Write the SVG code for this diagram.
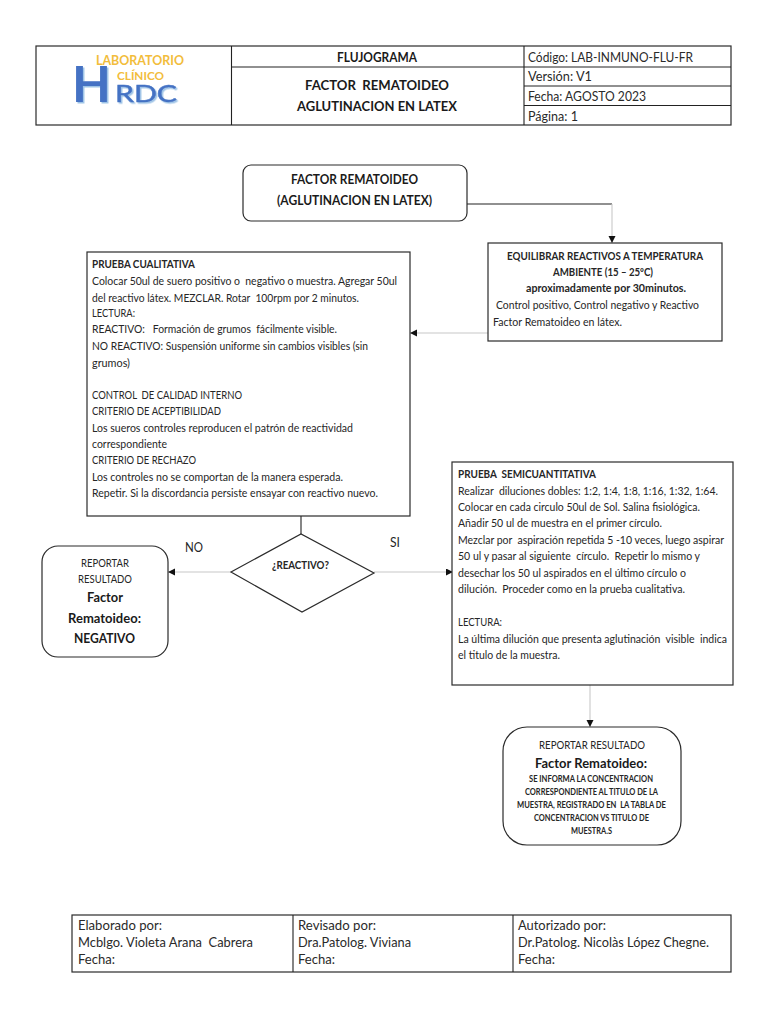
<svg xmlns="http://www.w3.org/2000/svg" width="768" height="1024" viewBox="0 0 768 1024">
<style>
text{font-family:Lato,"Liberation Sans",sans-serif;fill:#262626;white-space:pre;font-size:10.8px}
.b{font-weight:700}
.h{font-size:13px;font-weight:700;fill:#1a1a1a}
.c{font-size:14px;fill:#2a2a2a}
.f{font-size:14px;fill:#2a2a2a}
.s{font-weight:700;font-size:8.8px}
.m{font-weight:700;font-size:14px;fill:#1a1a1a}
.t{font-size:13px}
.box{fill:#fff;stroke:#2b2b2b;stroke-width:1.2}
.k{stroke:#222;stroke-width:1.1;fill:none}
.g{stroke:#c8c8c8;stroke-width:1.1;fill:none}
.y{fill:#f2bd3c;font-weight:700}
.bl{fill:#4472c4;font-weight:700;filter:url(#sh)}
</style>
<defs>
<marker id="a" markerUnits="userSpaceOnUse" markerWidth="8" markerHeight="8" refX="7" refY="3.500" orient="auto"><path d="M0 0L7 3.500L0 7Z" fill="#111"/></marker>
<filter id="sh" x="-10%" y="-10%" width="130%" height="130%"><feDropShadow dx="1.5" dy="1.5" stdDeviation="0.6" flood-color="#9dc3e6"/></filter>
</defs>
<rect width="768" height="1024" fill="#fff"/>
<g id="header">
<rect class="box" x="36" y="46" width="695" height="79"/>
<path class="k" d="M231.500 46V125M524 46V125M231.500 67H731M524 86H731M524 105.500H731"/>
<text class="bl" x="72" y="102" style="font-size:50px" textLength="39" lengthAdjust="spacingAndGlyphs">H</text>
<text class="bl" x="115" y="102" style="font-size:24px;font-weight:400;stroke:#4472c4;stroke-width:.5" textLength="62" lengthAdjust="spacingAndGlyphs">RDC</text>
<text class="y" x="96" y="65" style="font-size:12.500px" textLength="88" lengthAdjust="spacingAndGlyphs">LABORATORIO</text>
<text class="y" x="117" y="80" style="font-size:11.500px" textLength="47" lengthAdjust="spacingAndGlyphs">CLÍNICO</text>
<text class="h" x="337" y="62" textLength="80" lengthAdjust="spacingAndGlyphs">FLUJOGRAMA</text>
<text class="h" x="305" y="90" textLength="144" lengthAdjust="spacingAndGlyphs">FACTOR  REMATOIDEO</text>
<text class="h" x="297" y="111" textLength="160" lengthAdjust="spacingAndGlyphs">AGLUTINACION EN LATEX</text>
<text class="c" x="528" y="62" textLength="165" lengthAdjust="spacingAndGlyphs">Código: LAB-INMUNO-FLU-FR</text>
<text class="c" x="528" y="81" textLength="64" lengthAdjust="spacingAndGlyphs">Versión: V1</text>
<text class="c" x="528" y="101" textLength="118" lengthAdjust="spacingAndGlyphs">Fecha: AGOSTO 2023</text>
<text class="c" x="528" y="121" textLength="50" lengthAdjust="spacingAndGlyphs">Página: 1</text>
</g>
<g id="connectors">
<path class="k" d="M467 204H612"/>
<path class="g" d="M612 204V243" marker-end="url(#a)"/>
<path class="g" d="M488 333H410" marker-end="url(#a)"/>
<path class="k" d="M301 516V534"/>
<path class="g" d="M231 572H168" marker-end="url(#a)"/>
<path class="g" d="M374 572H453" marker-end="url(#a)"/>
<path class="g" d="M590 685V727" marker-end="url(#a)"/>
</g>
<g id="inicio">
<rect class="box" x="243" y="165" width="224" height="56" rx="8"/>
<text class="h" x="291" y="184" textLength="127" lengthAdjust="spacingAndGlyphs">FACTOR REMATOIDEO</text>
<text class="h" x="277" y="205" textLength="155" lengthAdjust="spacingAndGlyphs">(AGLUTINACION EN LATEX)</text>
</g>
<g id="equilibrar">
<rect class="box" x="488" y="243" width="234" height="98"/>
<text class="b" x="507" y="260" textLength="196" lengthAdjust="spacingAndGlyphs">EQUILIBRAR REACTIVOS A TEMPERATURA</text>
<text class="b" x="553" y="276" textLength="100" lengthAdjust="spacingAndGlyphs">AMBIENTE (15 – 25ºC)</text>
<text class="b" x="526" y="292" textLength="160" lengthAdjust="spacingAndGlyphs">aproximadamente por 30minutos.</text>
<text x="496" y="309" textLength="203" lengthAdjust="spacingAndGlyphs">Control positivo, Control negativo y Reactivo</text>
<text x="493" y="326" textLength="129" lengthAdjust="spacingAndGlyphs">Factor Rematoideo en látex.</text>
</g>
<g id="cualitativa">
<rect class="box" x="87" y="252" width="323" height="264"/>
<text class="b" x="92" y="268" textLength="103" lengthAdjust="spacingAndGlyphs">PRUEBA CUALITATIVA</text>
<text x="92" y="285" textLength="305" lengthAdjust="spacingAndGlyphs">Colocar 50ul de suero positivo o  negativo o muestra. Agregar 50ul</text>
<text x="92" y="302" textLength="267" lengthAdjust="spacingAndGlyphs">del reactivo látex. MEZCLAR. Rotar  100rpm por 2 minutos.</text>
<text x="92" y="317" textLength="43" lengthAdjust="spacingAndGlyphs">LECTURA:</text>
<text x="92" y="333" textLength="245" lengthAdjust="spacingAndGlyphs">REACTIVO:   Formación de grumos  fácilmente visible.</text>
<text x="92" y="350" textLength="276" lengthAdjust="spacingAndGlyphs">NO REACTIVO: Suspensión uniforme sin cambios visibles (sin</text>
<text x="92" y="367" textLength="38" lengthAdjust="spacingAndGlyphs">grumos)</text>
<text x="92" y="399" textLength="150" lengthAdjust="spacingAndGlyphs">CONTROL  DE CALIDAD INTERNO</text>
<text x="92" y="415" textLength="129" lengthAdjust="spacingAndGlyphs">CRITERIO DE ACEPTIBILIDAD</text>
<text x="92" y="432" textLength="261" lengthAdjust="spacingAndGlyphs">Los sueros controles reproducen el patrón de reactividad</text>
<text x="92" y="448" textLength="75" lengthAdjust="spacingAndGlyphs">correspondiente</text>
<text x="92" y="464" textLength="104" lengthAdjust="spacingAndGlyphs">CRITERIO DE RECHAZO</text>
<text x="92" y="481" textLength="251" lengthAdjust="spacingAndGlyphs">Los controles no se comportan de la manera esperada.</text>
<text x="92" y="497" textLength="286" lengthAdjust="spacingAndGlyphs">Repetir. Si la discordancia persiste ensayar con reactivo nuevo.</text>
</g>
<g id="decision">
<path class="box" d="M231 572L301 534L374 573L302 612Z"/>
<text class="b" x="272" y="569" textLength="57" lengthAdjust="spacingAndGlyphs">¿REACTIVO?</text>
</g>
<g id="etiquetas">
<text class="t" x="185" y="552" textLength="18" lengthAdjust="spacingAndGlyphs">NO</text>
<text class="t" x="390" y="547" textLength="10" lengthAdjust="spacingAndGlyphs">SI</text>
</g>
<g id="negativo">
<rect class="box" x="42" y="546" width="126" height="111" rx="16"/>
<text x="81" y="567" textLength="48" lengthAdjust="spacingAndGlyphs">REPORTAR</text>
<text x="78" y="583" textLength="54" lengthAdjust="spacingAndGlyphs">RESULTADO</text>
<text class="m" x="87" y="602" textLength="36" lengthAdjust="spacingAndGlyphs">Factor</text>
<text class="m" x="68" y="623" textLength="73" lengthAdjust="spacingAndGlyphs">Rematoideo:</text>
<text class="m" x="74" y="643" textLength="61" lengthAdjust="spacingAndGlyphs">NEGATIVO</text>
</g>
<g id="semicuantitativa">
<rect class="box" x="452" y="462" width="281" height="223"/>
<text class="b" x="458" y="478" textLength="138" lengthAdjust="spacingAndGlyphs">PRUEBA  SEMICUANTITATIVA</text>
<text x="458" y="495" textLength="260" lengthAdjust="spacingAndGlyphs">Realizar  diluciones dobles: 1:2, 1:4, 1:8, 1:16, 1:32, 1:64.</text>
<text x="458" y="511" textLength="242" lengthAdjust="spacingAndGlyphs">Colocar en cada circulo 50ul de Sol. Salina fisiológica.</text>
<text x="458" y="527" textLength="204" lengthAdjust="spacingAndGlyphs">Añadir 50 ul de muestra en el primer círculo.</text>
<text x="458" y="544" textLength="266" lengthAdjust="spacingAndGlyphs">Mezclar por  aspiración repetida 5 -10 veces, luego aspirar</text>
<text x="458" y="560" textLength="242" lengthAdjust="spacingAndGlyphs">50 ul y pasar al siguiente  círculo.  Repetir lo mismo y</text>
<text x="458" y="577" textLength="228" lengthAdjust="spacingAndGlyphs">desechar los 50 ul aspirados en el último círculo o</text>
<text x="458" y="593" textLength="227" lengthAdjust="spacingAndGlyphs">dilución.  Proceder como en la prueba cualitativa.</text>
<text x="458" y="626" textLength="44" lengthAdjust="spacingAndGlyphs">LECTURA:</text>
<text x="458" y="643" textLength="269" lengthAdjust="spacingAndGlyphs">La última dilución que presenta aglutinación  visible  indica</text>
<text x="458" y="659" textLength="102" lengthAdjust="spacingAndGlyphs">el titulo de la muestra.</text>
</g>
<g id="concentracion">
<rect class="box" x="503" y="727" width="178" height="118" rx="24"/>
<text x="539" y="749" textLength="106" lengthAdjust="spacingAndGlyphs">REPORTAR RESULTADO</text>
<text class="m" x="535" y="768" textLength="112" lengthAdjust="spacingAndGlyphs">Factor Rematoideo:</text>
<text class="s" x="529" y="782" textLength="124" lengthAdjust="spacingAndGlyphs">SE INFORMA LA CONCENTRACION</text>
<text class="s" x="525" y="795" textLength="133" lengthAdjust="spacingAndGlyphs">CORRESPONDIENTE AL TITULO DE LA</text>
<text class="s" x="517" y="808" textLength="149" lengthAdjust="spacingAndGlyphs">MUESTRA, REGISTRADO EN  LA TABLA DE</text>
<text class="s" x="534" y="821" textLength="115" lengthAdjust="spacingAndGlyphs">CONCENTRACION VS TITULO DE</text>
<text class="s" x="571" y="834" textLength="41" lengthAdjust="spacingAndGlyphs">MUESTRA.S</text>
</g>
<g id="firmas">
<rect class="box" x="72" y="915" width="659" height="57"/>
<path class="k" d="M293 915V972M513 915V972"/>
<text class="f" x="78" y="930" textLength="84" lengthAdjust="spacingAndGlyphs">Elaborado por:</text>
<text class="f" x="78" y="947" textLength="175" lengthAdjust="spacingAndGlyphs">Mcblgo. Violeta Arana  Cabrera</text>
<text class="f" x="78" y="964" textLength="37" lengthAdjust="spacingAndGlyphs">Fecha:</text>
<text class="f" x="298" y="930" textLength="78" lengthAdjust="spacingAndGlyphs">Revisado por:</text>
<text class="f" x="298" y="947" textLength="113" lengthAdjust="spacingAndGlyphs">Dra.Patolog. Viviana</text>
<text class="f" x="298" y="964" textLength="37" lengthAdjust="spacingAndGlyphs">Fecha:</text>
<text class="f" x="518" y="930" textLength="88" lengthAdjust="spacingAndGlyphs">Autorizado por:</text>
<text class="f" x="518" y="947" textLength="191" lengthAdjust="spacingAndGlyphs">Dr.Patolog. Nicolàs López Chegne.</text>
<text class="f" x="518" y="964" textLength="37" lengthAdjust="spacingAndGlyphs">Fecha:</text>
</g>
</svg>
